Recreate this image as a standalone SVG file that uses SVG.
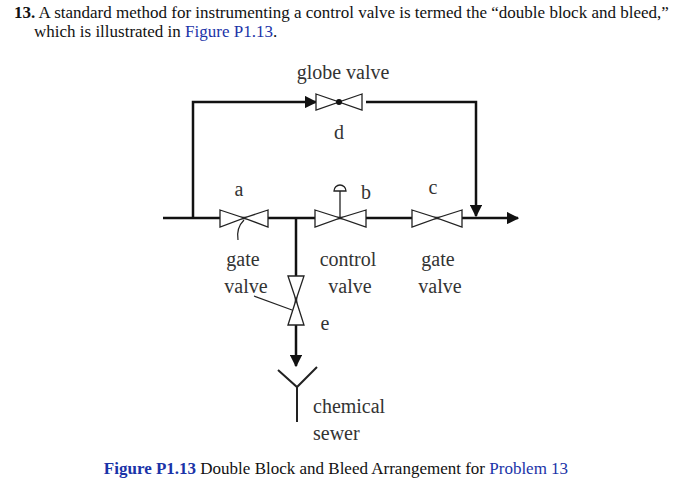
<svg xmlns="http://www.w3.org/2000/svg" width="700" height="487" viewBox="0 0 700 487">
<defs>
<marker id="ah" viewBox="0 0 10 10" refX="9" refY="5" markerWidth="5" markerHeight="5" orient="auto"><path d="M0,0 L10,5 L0,10 z" fill="#111"/></marker>
<style>
.t{font-family:"Liberation Serif",serif;font-size:17px;fill:#111}
.l{font-family:"Liberation Serif",serif;font-size:20px;fill:#333}
.p{stroke:#111;stroke-width:2.5;fill:none}
.v{stroke:#222;stroke-width:1.3;fill:#fff}
.b{fill:#1a33a8}
</style>
</defs>
<rect width="700" height="487" fill="#fff"/>
<text class="t" x="14" y="18"><tspan font-weight="bold">13.</tspan> A standard method for instrumenting a control valve is termed the “double block and bleed,”</text>
<text class="t" x="34" y="37">which is illustrated in <tspan class="b">Figure P1.13</tspan>.</text>
<g id="connectors">
<path class="p" d="M163,218 H518" marker-end="url(#ah)"/>
<path class="p" d="M193,218 V102 H316" stroke-width="2" marker-end="url(#ah)"/>
<path class="p" d="M366,102 H476 V216" stroke-width="2" marker-end="url(#ah)"/>
<path class="p" d="M296,218 V366" marker-end="url(#ah)"/>
<path d="M244,220 Q236,228 238,240" stroke="#222" stroke-width="1.2" fill="none"/>
<path d="M292,310 L254,296" stroke="#222" stroke-width="1.2" fill="none"/>
</g>
<g id="valve-d"><path class="v" d="M316,94 L339,102 L316,110 z M362,94 L339,102 L362,110 z"/><circle cx="339" cy="102" r="3" fill="#111"/></g>
<g id="valve-a"><path class="v" d="M220,210 L244,218 L220,227 z M268,210 L244,218 L268,227 z"/></g>
<g id="valve-b"><path class="v" d="M315,210 L340,218 L315,227 z M366,210 L340,218 L366,227 z"/><path d="M340,218 V191" stroke="#222" stroke-width="1.3"/><path class="v" d="M334,191 A6,6 0 0 1 346,191 z"/></g>
<g id="valve-c"><path class="v" d="M412,210 L437,218 L412,227 z M462,210 L437,218 L462,227 z"/></g>
<g id="valve-e"><path class="v" d="M288,276 L296,300 L304,276 z M288,325 L296,300 L304,325 z"/></g>
<g id="sewer"><path d="M278,370 L297,387 L317,367 M297,387 V422" stroke="#222" stroke-width="2" fill="none"/></g>
<g id="labels">
<text class="l" x="343" y="79" text-anchor="middle">globe valve</text>
<text class="l" x="339" y="139" text-anchor="middle">d</text>
<text class="l" x="239" y="196" text-anchor="middle" font-size="16">a</text>
<text class="l" x="366" y="199" text-anchor="middle">b</text>
<text class="l" x="433" y="194" text-anchor="middle" font-size="16">c</text>
<text class="l" x="243" y="266" text-anchor="middle">gate</text>
<text class="l" x="246" y="293" text-anchor="middle">valve</text>
<text class="l" x="348" y="266" text-anchor="middle">control</text>
<text class="l" x="350" y="293" text-anchor="middle">valve</text>
<text class="l" x="438" y="266" text-anchor="middle">gate</text>
<text class="l" x="440" y="293" text-anchor="middle">valve</text>
<text class="l" x="325" y="330" text-anchor="middle" font-size="16">e</text>
<text class="l" x="313" y="413">chemical</text>
<text class="l" x="313" y="440">sewer</text>
</g>
<text class="t" x="336" y="474" text-anchor="middle"><tspan class="b" font-weight="bold">Figure P1.13</tspan> Double Block and Bleed Arrangement for <tspan class="b">Problem 13</tspan></text>
</svg>
